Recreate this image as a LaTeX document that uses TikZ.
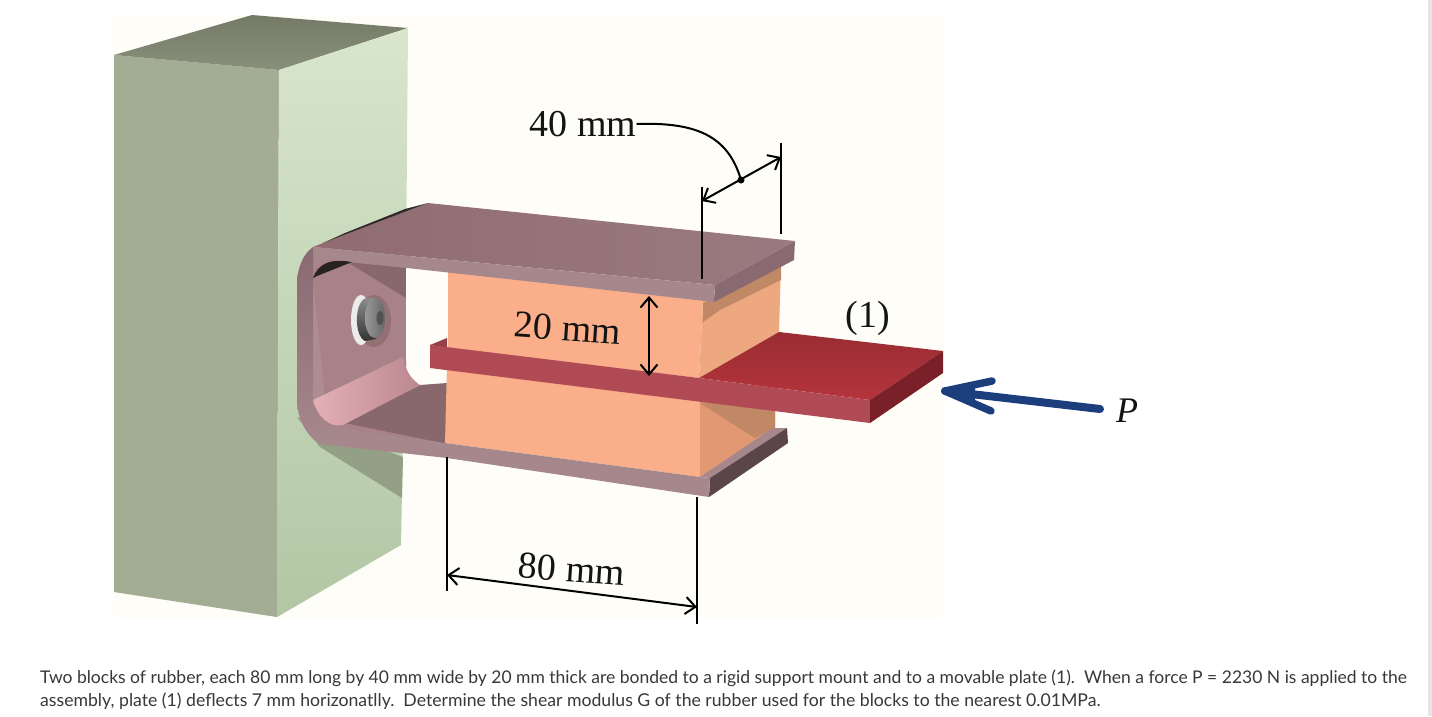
\documentclass[tikz,border=0pt]{standalone}
\usepackage{fontspec}
\setmainfont{Liberation Serif}
\newfontfamily\captionfont{Lato}
\usetikzlibrary{arrows.meta, positioning}

\definecolor{paper}{RGB}{254,253,248}
\definecolor{mauve}{RGB}{165,135,140}
\definecolor{mauvetop}{RGB}{144,108,113}
\definecolor{mauveend}{RGB}{138,106,114}
\definecolor{mauveback}{RGB}{168,130,135}
\definecolor{mauvedark}{RGB}{136,104,108}
\definecolor{rubber}{RGB}{250,174,138}
\definecolor{rubberside}{RGB}{238,168,128}
\definecolor{rubberlow}{RGB}{226,152,114}
\definecolor{rubbershade}{RGB}{192,136,100}
\definecolor{platetop}{RGB}{181,52,60}
\definecolor{platefront}{RGB}{176,75,85}
\definecolor{plateend}{RGB}{122,32,40}
\definecolor{loadblue}{RGB}{28,62,125}
\definecolor{columnfront}{RGB}{163,173,148}
\definecolor{columnshade}{RGB}{148,160,134}

\tikzset{
  dimline/.style = {line width=2pt, black},
  dimarrow/.style = {line width=2pt, black, {Straight Barb[length=10pt,width=17pt]}-{Straight Barb[length=10pt,width=17pt]}},
  dimtext/.style = {font=\fontsize{38}{38}\selectfont, text=black!92, inner sep=0pt},
  capline/.style = {font=\captionfont\fontsize{17.65}{18}\selectfont, text=black!78, anchor=base west, inner sep=0pt}
}

\begin{document}
\begin{tikzpicture}[x=1pt, y=-1pt]
  \useasboundingbox (0,0) rectangle (1432,716);
  \fill[white] (0,0) rectangle (1432,716);
  \fill[black!10] (1428,0) rectangle (1432,716);
  \fill[paper] (113,15) rectangle (943,618);

  % support column
  \fill[columnfront] (114,55) -- (279,70) -- (277,617) -- (114,592) -- cycle;
  \shade[top color={rgb,255:red,116;green,122;blue,102}, bottom color={rgb,255:red,136;green,143;blue,122}]
    (114,55) -- (252,15) -- (408,28) -- (279,70) -- cycle;
  \shade[top color={rgb,255:red,216;green,230;blue,204}, bottom color={rgb,255:red,178;green,198;blue,164}]
    (279,70) -- (408,28) -- (406,270) -- (401,545) -- (277,617) -- cycle;
  \fill[columnshade] (297,417) -- (320,447) -- (402,498) -- (403,457) -- cycle;

  % back wall of the mount
  \fill[mauveback] (305,255) -- (407,262) -- (406,400) -- (445,443) -- (330,430) -- (305,403) -- cycle;
  \fill[mauvedark] (347,262) -- (407,268) -- (406,298) -- cycle;
  \fill[mauveback!92!white] (313,280) -- (325,400) -- (313,405) -- cycle;
  \fill[black!75!mauve] (313,278) .. controls (318,264) and (330,258) .. (352,262)
    -- (317,276) -- cycle;
  \fill[paper] (406,266) -- (450,272) -- (450,384) -- (430,383)
    .. controls (415,382) and (406,372) .. (406,358) -- cycle;
  \fill[mauvedark] (345,423) -- (420,385) -- (447,383) -- (447,444) -- cycle;
  \shade[left color={rgb,255:red,226;green,176;blue,182}, right color={rgb,255:red,186;green,136;blue,142}]
    (313,400) -- (403,357) .. controls (406,372) and (412,380) .. (420,385)
    -- (343,425) .. controls (330,428) and (318,418) .. (313,400) -- cycle;

  % bolt
  \fill[mauvedark!70!mauveback] (374,321) ellipse (17pt and 26pt);
  \fill[black!8] (361,320) ellipse (10pt and 25pt);
  \shade[top color=black!45, bottom color=black!80] (366,298) -- (376,298)
    -- (376,339) -- (365,341) .. controls (354,336) and (354,302) .. (366,298) -- cycle;
  \shade[left color=black!40, right color=black!60] (375,318) ellipse (10pt and 20pt);
  \fill[black!68] (380,318) ellipse (3.5pt and 7pt);

  % lower block
  \fill[rubber] (447,365) -- (700,395) -- (700,477) -- (445,443) -- cycle;
  \fill[rubberlow] (700,395) -- (775,380) -- (775,428) -- (700,477) -- cycle;
  \fill[rubbershade] (700,403) -- (775,400) -- (775,428) -- (755,438) -- cycle;

  % bottom plate of the mount
  \fill[mauve] (700,477) -- (773,428) -- (787,428) -- (710,478) -- cycle;
  \fill[black!35!mauveend] (710,478) -- (787,428) -- (788,443) -- (709,497) -- cycle;
  \fill[mauve] (320,444) -- (447,458) -- (709,497)
    -- (710,478) -- (700,477) -- (445,443) -- (330,427) -- cycle;

  % upper block
  \fill[rubber] (448,272) -- (703,300) -- (699,378) -- (448,350) -- cycle;
  \fill[rubberside] (703,300) -- (781,262) -- (779,332) -- (699,378) -- cycle;
  \fill[rubbershade] (703,303) -- (781,267) -- (781,280) -- (720,310) -- (703,322) -- cycle;

  % top plate and side of the mount
  \shade[left color=mauvetop, right color={rgb,255:red,154;green,122;blue,128}]
    (313,247) -- (323,243) -- (428,203) -- (795,241) -- (715,285) -- cycle;
  \fill[black!70!mauve] (323,243) -- (428,203) -- (405,209) -- (345,233) -- cycle;
  \fill[mauveend] (715,285) -- (795,241) -- (794,260) -- (714,302) -- cycle;
  \fill[mauve] (313,247) -- (715,285) -- (714,302) -- (580,287) -- (407,268) -- (353,262)
    .. controls (330,258) and (316,262) .. (313,270) -- (313,250) -- cycle;
  \shade[top color=mauveend, bottom color=mauve]
    (297,285) .. controls (297,268) and (303,254) .. (313,247) -- (313,403)
    .. controls (314,414) and (320,422) .. (330,427) -- (320,444)
    .. controls (308,438) and (298,420) .. (297,403) -- cycle;

  % plate (1)
  \fill[platefront!85!black] (430,345) -- (447,338) -- (447,348) -- cycle;
  \shade[top color=platetop!85!black, bottom color=platetop]
    (699,378) -- (779,332) -- (943,351) -- (870,400) -- cycle;
  \fill[platefront] (430,345) -- (699,378) -- (870,400) -- (870,423) -- (430,368) -- cycle;
  \fill[plateend] (870,400) -- (943,351) -- (943,373) -- (870,423) -- cycle;

  % load P
  \coordinate (tipP) at (945,391);
  \coordinate (tailP) at (1100,409);
  \fill[loadblue] (tipP) -- (975,384) -- (975,404) -- cycle;
  \draw[loadblue, line width=8pt, line cap=round, line join=round] (tailP) -- (tipP);
  \draw[loadblue, line width=7.5pt, line cap=round, line join=round] (992,381) -- (tipP) -- (991,411);

  % dimensions
  \node[dimtext] (wide) at (583,124) {40 mm};
  \node[dimtext, rotate=-4] (thick) at (568,328) {20 mm};
  \node[dimtext, rotate=-4] (long) at (572,569) {80 mm};
  \node[dimtext] (plate) at (868,318) {(1)};
  \node[dimtext, font=\fontsize{36}{36}\selectfont\itshape] (load) at (1127,411) {P};

  \coordinate (wideA) at (702,201);
  \coordinate (wideB) at (781,157);
  \coordinate (wideC) at (741,180);
  \coordinate (thickA) at (649,296);
  \coordinate (thickB) at (649,376);
  \coordinate (longA) at (447,575);
  \coordinate (longB) at (697,607);

  \draw[dimline] (702,187) -- (702,279);
  \draw[dimline] (781,143) -- (781,234);
  \draw[dimline] (447,457) -- (447,591);
  \draw[dimline] (697,497) -- (697,624);
  \draw[dimarrow] (wideA) -- (wideB);
  \draw[dimarrow] (thickA) -- (thickB);
  \draw[dimarrow] (longA) -- (longB);
  \draw[dimline] (wide.east) .. controls (695,122) and (728,135) .. (wideC);
  \fill[black] (wideC) circle (3.5pt);

  % problem statement
  \node[capline, font=\captionfont\fontsize{17.5}{18}\selectfont] (lineone) at (40,683) {Two blocks of rubber, each 80 mm long by 40 mm wide by 20 mm thick are bonded to a rigid support mount and to a movable plate (1).\ \ When a force P = 2230 N is applied to the};
  \node[capline] (linetwo) at (40,706) {assembly, plate (1) deflects 7 mm horizonatlly.\ \ Determine the shear modulus G of the rubber used for the blocks to the nearest 0.01MPa.};
\end{tikzpicture}
\end{document}
